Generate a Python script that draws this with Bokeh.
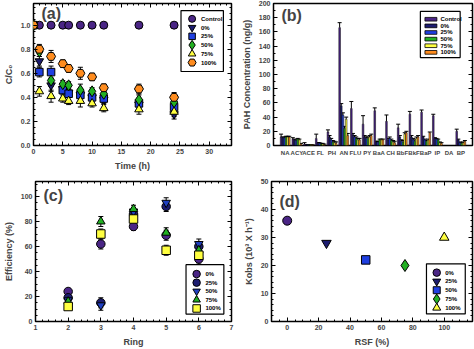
from bokeh.plotting import figure
from bokeh.models import (ColumnDataSource, Whisker, TeeHead, Label, LinearAxis, FixedTicker, Range1d)
from bokeh.core.properties import value
from bokeh.layouts import column, row
from bokeh.embed import file_html
from bokeh.resources import INLINE

FONT = "Liberation Sans"

# ---------------- Panel (a) data ----------------
time_h = [0, 1, 3, 5, 6, 8, 10, 12, 18, 24]
a_series = ["Control", "0%", "25%", "50%", "75%", "100%"]
a_control = [1.0, 1.0, 1.0, 1.0, 1.0, 1.0, 1.0, 1.0, 1.0, 1.0]
a_0 = [1.0, 0.70, 0.50, 0.47, 0.44, 0.42, 0.40, 0.38, 0.34, 0.26]
a_25 = [1.0, 0.61, 0.61, 0.46, 0.43, 0.42, 0.40, 0.39, 0.35, 0.32]
a_50 = [1.0, 0.78, 0.54, 0.51, 0.50, 0.46, 0.45, 0.43, 0.38, 0.36]
a_75 = [1.0, 0.45, 0.41, 0.39, 0.37, 0.37, 0.35, 0.31, 0.30, 0.28]
a_100 = [1.0, 0.80, 0.74, 0.68, 0.64, 0.60, 0.57, 0.48, 0.47, 0.40]
a_err = [0.0, 0.04, 0.05, 0.03, 0.03, 0.05, 0.03, 0.03, 0.04, 0.04]

# ---------------- Panel (b) data ----------------
pah = ["NA", "ACY", "ACE", "FL", "PH", "AN", "FLU", "PY", "BaA", "CH", "BbF", "BkF", "BaP", "IP", "DA", "BP"]
b_series = ["Control", "0%", "25%", "50%", "75%", "100%"]
b_control = [12, 9, 2, 10, 19, 166, 52, 30, 49, 34, 25, 44, 47, 42, 0, 20]
b_0 = [11, 8, 1, 3, 12, 56, 15, 12, 5, 8, 12, 12, 12, 10, 0, 8]
b_25 = [11, 7, 1, 3, 8, 43, 12, 10, 5, 10, 6, 8, 8, 9, 0, 4]
b_50 = [12, 9, 1, 2, 5, 24, 10, 10, 8, 7, 5, 6, 6, 8, 0, 3]
b_75 = [12, 8, 1, 2, 4, 37, 8, 12, 8, 5, 16, 10, 8, 4, 0, 4]
b_100 = [12, 2, 1, 1, 3, 14, 8, 14, 8, 4, 18, 12, 18, 3, 0, 6]
b_ctrl_err = [4, 2, 2, 6, 3, 7, 10, 12, 4, 9, 5, 4, 3, 2, 0, 3]
b_err = [1, 1, 0, 1, 2, 3, 2, 2, 1, 2, 2, 2, 1, 1, 0, 1]

# ---------------- Panel (c) data ----------------
ring = [2, 3, 4, 5, 6]
c_series = ["0%", "25%", "50%", "75%", "100%"]
c_0 = [24, 62, 76, 69, 50]
c_25 = [19, 15, 86, 92, 60]
c_50 = [17, 13, 88, 95, 62]
c_75 = [16, 80, 90, 71, 57]
c_100 = [12, 70, 82, 57, 53]
c_err = [2, 4, 3, 4, 4]

# ---------------- Panel (d) data ----------------
rsf = [0, 25, 50, 75, 100]
d_series = ["0%", "25%", "50%", "75%", "100%"]
kobs = [36, 28, 22, 20, 30]


def style(p, xlabel, ylabel):
    p.outline_line_color = "black"
    p.outline_line_width = 1.5
    p.background_fill_color = "white"
    p.border_fill_color = "white"
    p.grid.visible = False
    for ax in p.xaxis + p.yaxis:
        ax.major_tick_in = 4
        ax.major_tick_out = 0
        ax.minor_tick_in = 2
        ax.minor_tick_out = 0
        ax.axis_line_color = None
        ax.major_label_text_font = FONT
        ax.major_label_text_font_style = "bold"
        ax.major_label_text_font_size = "7px"
        ax.major_label_standoff = 3
        ax.axis_label_text_font = FONT
        ax.axis_label_text_font_style = "bold"
        ax.axis_label_text_font_size = "9px"
        ax.axis_label_standoff = 4
    p.xaxis.axis_label = xlabel
    p.yaxis.axis_label = ylabel
    # fractional frame ranges used only for placing the legend box
    p.extra_x_ranges = {"fx": Range1d(0, 1)}
    p.extra_y_ranges = {"fy": Range1d(0, 1)}


def mirror_axes(p, xticks, xminor, yticks, yminor):
    ra = LinearAxis(ticker=FixedTicker(ticks=yticks, minor_ticks=yminor),
                    major_label_overrides={t: "" for t in yticks}, major_label_standoff=0,
                    major_tick_in=4, major_tick_out=0, minor_tick_in=2, minor_tick_out=0,
                    axis_line_color=None)
    ta = LinearAxis(ticker=FixedTicker(ticks=xticks, minor_ticks=xminor),
                    major_label_overrides={t: "" for t in xticks}, major_label_standoff=0,
                    major_tick_in=4, major_tick_out=0, minor_tick_in=2,
                    minor_tick_out=0, axis_line_color=None)
    p.add_layout(ra, "right")
    p.add_layout(ta, "above")


def legend_box(p, names, box, tx, y0, dy, draw_key):
    l, r, b, t = box
    p.quad(left=[l], right=[r], bottom=[b], top=[t], fill_color="white", line_color="black",
           line_width=1.2, x_range_name="fx", y_range_name="fy")
    ys = [y0 - i * dy for i in range(len(names))]
    for i, y in enumerate(ys):
        draw_key(i, y)
    p.text(x=[tx] * len(names), y=ys, text=names, x_range_name="fx", y_range_name="fy",
           text_font=value(FONT), text_font_style="bold", text_font_size="6px",
           text_baseline="middle", text_align="left", text_color="black")


def panel_label(p, txt, x, y):
    p.add_layout(Label(x=x, y=y, x_units="screen", y_units="screen", text=txt,
                       text_font=FONT, text_font_style="bold", text_font_size="16px"))


def err(p, xs, ys, e, upper_only=False, size=5):
    lo = [y if upper_only else y - d for y, d in zip(ys, e)]
    hi = [y + d for y, d in zip(ys, e)]
    src = ColumnDataSource(dict(base=xs, lower=lo, upper=hi))
    w = Whisker(base="base", lower="lower", upper="upper", source=src,
                line_color="black", line_width=1,
                upper_head=TeeHead(size=size, line_color="black", line_width=1),
                lower_head=None if upper_only else TeeHead(size=size, line_color="black", line_width=1))
    p.add_layout(w)


def marker_keys(p, markers, colors, sizes, mx):
    def draw(i, y):
        p.scatter([mx], [y], marker=markers[i], size=sizes[i], fill_color=colors[i],
                  line_color="black", line_width=1, x_range_name="fx", y_range_name="fy")
    return draw


# ================= Panel (a) =================
pa = figure(width=237, height=175, output_backend="svg", toolbar_location=None,
            x_range=Range1d(0, 33.8), y_range=Range1d(0, 1.18),
            min_border_left=28, min_border_right=6, min_border_top=3, min_border_bottom=30)
style(pa, "Time (h)", "C/C\u2080")
ax_t = [0, 5, 10, 15, 20, 25, 30]
ax_m = list(range(0, 34))
ay_t = [0, 0.2, 0.4, 0.6, 0.8, 1.0]
ay_m = [i * 0.05 for i in range(24)]
pa.xaxis.ticker = FixedTicker(ticks=ax_t, minor_ticks=ax_m)
pa.yaxis.ticker = FixedTicker(ticks=ay_t, minor_ticks=ay_m)
pa.yaxis.major_label_overrides = {0: "0.0", 0.2: "0.2", 0.4: "0.4", 0.6: "0.6", 0.8: "0.8", 1.0: "1.0"}
mirror_axes(pa, ax_t, ax_m, ay_t, ay_m)

a_vals = [a_control, a_0, a_25, a_50, a_75, a_100]
a_markers = ["circle", "inverted_triangle", "square", "diamond", "triangle", "hex"]
a_colors = ["#4a2585", "#1c1c70", "#1f3fe0", "#22b022", "#ffff40", "#ff8c1e"]
a_sizes = [8, 8.5, 7.5, 11, 8.5, 9]
for name, vals, m, c, s in zip(a_series, a_vals, a_markers, a_colors, a_sizes):
    if name != "Control":
        err(pa, time_h[1:], vals[1:], a_err[1:])
    pa.scatter(time_h, vals, marker=m, size=s, fill_color=c, line_color="black", line_width=1)
legend_box(pa, a_series, (0.745, 0.959, 0.521, 0.950), 0.846, 0.892, 0.0616,
           marker_keys(pa, a_markers, a_colors, [7, 7.5, 6.5, 9.5, 7.5, 8], 0.801))
panel_label(pa, "(a)", 8, 124)

# ================= Panel (b) =================
pb = figure(width=237, height=175, output_backend="svg", toolbar_location=None,
            x_range=Range1d(0, 17), y_range=Range1d(0, 200),
            min_border_left=36, min_border_right=2, min_border_top=2, min_border_bottom=29)
style(pb, "", "PAH Concentration (ng/g)")
pb.xaxis.axis_label = None
pb.xaxis.ticker = FixedTicker(ticks=list(range(1, 17)), minor_ticks=[])
pb.xaxis.major_label_overrides = {i + 1: n for i, n in enumerate(pah)}
pb.xaxis.major_tick_in = 0
pb.xaxis.major_label_standoff = 4
pb.xaxis.major_label_text_font_size = "6px"
by_t = list(range(0, 201, 20))
by_m = list(range(0, 201, 10))
pb.yaxis.ticker = FixedTicker(ticks=by_t, minor_ticks=by_m)
mirror_axes(pb, [], [], by_t, by_m)

b_vals = [b_control, b_0, b_25, b_50, b_75, b_100]
b_colors = ["#4a2585", "#1c1c70", "#1f3fe0", "#22b022", "#ffff40", "#ff8c1e"]
bw = 0.14
xs_base = list(range(1, 17))
for k, (name, vals, c) in enumerate(zip(b_series, b_vals, b_colors)):
    off = (k - 2.5) * bw
    xs = [x + off for x in xs_base]
    pb.vbar(x=xs, top=vals, width=bw, fill_color=c, line_color="black", line_width=0.5)
    e = b_ctrl_err if name == "Control" else b_err
    err(pb, xs, vals, e, upper_only=True, size=4)


def bar_key(i, y):
    pb.quad(left=[0.761], right=[0.821], bottom=[y - 0.013], top=[y + 0.013],
            fill_color=b_colors[i], line_color="black", line_width=0.8,
            x_range_name="fx", y_range_name="fy")


legend_box(pb, b_series, (0.738, 0.938, 0.619, 0.944), 0.839, 0.889, 0.0466, bar_key)
panel_label(pb, "(b)", 8, 122)

# ================= Panel (c) =================
pc = figure(width=237, height=174, output_backend="svg", toolbar_location=None,
            x_range=Range1d(1, 7), y_range=Range1d(0, 112),
            min_border_left=28, min_border_right=6, min_border_top=3, min_border_bottom=27)
style(pc, "Ring", "Efficiency (%)")
cx_t = [1, 2, 3, 4, 5, 6, 7]
cx_m = [1 + i * 0.2 for i in range(31)]
cy_t = [0, 20, 40, 60, 80, 100]
cy_m = list(range(0, 112, 5))
pc.xaxis.ticker = FixedTicker(ticks=cx_t, minor_ticks=cx_m)
pc.yaxis.ticker = FixedTicker(ticks=cy_t, minor_ticks=cy_m)
mirror_axes(pc, cx_t, cx_m, cy_t, cy_m)
c_vals = [c_0, c_25, c_50, c_75, c_100]
c_markers = ["circle", "circle", "inverted_triangle", "triangle", "square"]
c_colors = ["#4a2585", "#1c1c70", "#1f3fc0", "#22b022", "#ffff40"]
for name, vals, m, c in zip(c_series, c_vals, c_markers, c_colors):
    err(pc, ring, vals, c_err)
    pc.scatter(ring, vals, marker=m, size=8.5, fill_color=c, line_color="black", line_width=1)
legend_box(pc, c_series, (0.768, 0.961, 0.053, 0.406), 0.867, 0.339, 0.0615,
           marker_keys(pc, c_markers, c_colors, [7.5] * 5, 0.822))
panel_label(pc, "(c)", 8, 118)

# ================= Panel (d) =================
pd_ = figure(width=237, height=174, output_backend="svg", toolbar_location=None,
             x_range=Range1d(-10, 118), y_range=Range1d(0, 50),
             min_border_left=34, min_border_right=2, min_border_top=6, min_border_bottom=27)
style(pd_, "RSF (%)", "Kobs (10\u00b3 X h\u207b\u00b9)")
dx_t = [0, 20, 40, 60, 80, 100]
dx_m = list(range(-10, 119, 5))
dy_t = [0, 10, 20, 30, 40, 50]
dy_m = list(range(0, 51, 2))
pd_.xaxis.ticker = FixedTicker(ticks=dx_t, minor_ticks=dx_m)
pd_.yaxis.ticker = FixedTicker(ticks=dy_t, minor_ticks=dy_m)
mirror_axes(pd_, dx_t, dx_m, dy_t, dy_m)
d_markers = ["circle", "inverted_triangle", "square", "diamond", "triangle"]
d_colors = ["#4a2585", "#1c1c70", "#1f3fe0", "#22b022", "#ffff40"]
d_sizes = [9, 9.5, 8.5, 12, 9.5]
for i, (name, m, c) in enumerate(zip(d_series, d_markers, d_colors)):
    pd_.scatter([rsf[i]], [kobs[i]], marker=m, size=d_sizes[i], fill_color=c, line_color="black", line_width=1)
legend_box(pd_, d_series, (0.771, 0.964, 0.054, 0.412), 0.864, 0.349, 0.0628,
           marker_keys(pd_, d_markers, d_colors, [7.5, 8, 7, 10, 8], 0.822))
panel_label(pd_, "(d)", 8, 112)

layout = column(row(pa, pb), row(pc, pd_))
open("out.html", "w").write(file_html(layout, INLINE))
